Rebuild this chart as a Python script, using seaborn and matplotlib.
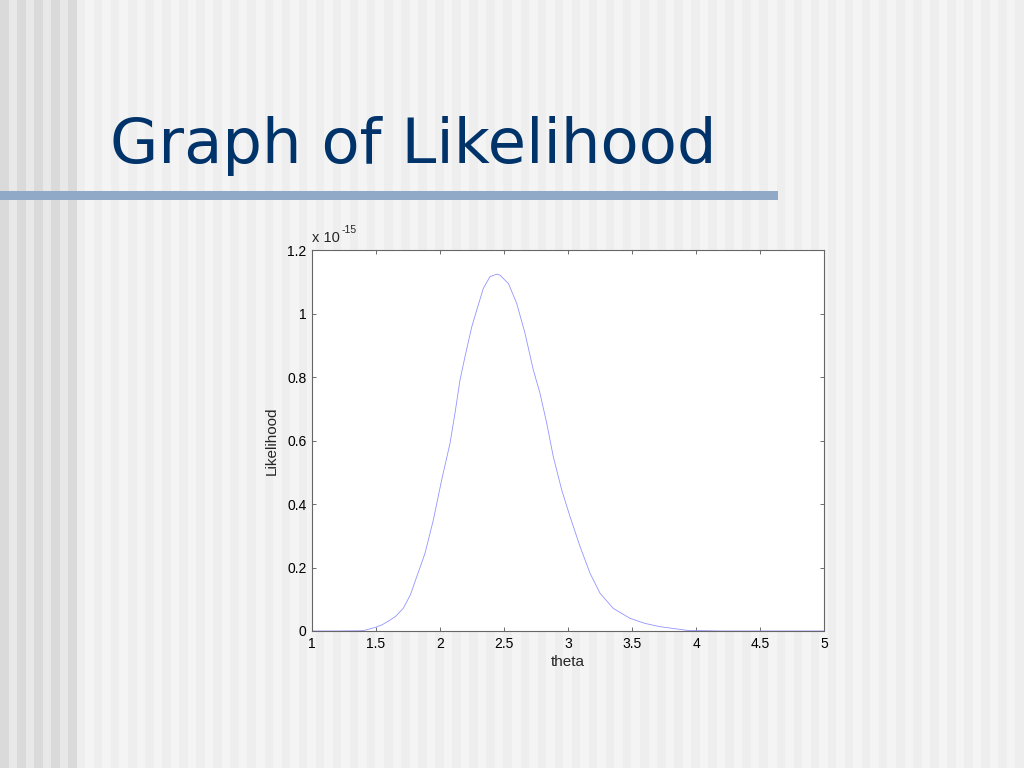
import numpy as np
import matplotlib
matplotlib.use("Agg")
import matplotlib.pyplot as plt
import seaborn as sns
from matplotlib.patches import Rectangle

# curve values (likelihood in units of 1e-15)
theta = [1.0, 1.2, 1.4, 1.5, 1.55, 1.6, 1.65, 1.713, 1.77, 1.818, 1.883, 1.948,
         2.013, 2.078, 2.117, 2.156, 2.195, 2.248, 2.287, 2.338, 2.39, 2.443,
         2.469, 2.52, 2.534, 2.599, 2.664, 2.729, 2.781, 2.834, 2.885, 2.951,
         3.016, 3.094, 3.172, 3.25, 3.354, 3.484, 3.6, 3.72, 3.93, 4.2, 4.5, 5.0]
likelihood = [0.0, 0.0, 0.001, 0.012, 0.02, 0.032, 0.045, 0.0714, 0.115, 0.171,
              0.245, 0.35, 0.476, 0.591, 0.686, 0.79, 0.864, 0.958, 1.011, 1.079,
              1.116, 1.124, 1.121, 1.10, 1.095, 1.032, 0.938, 0.822, 0.749, 0.654,
              0.549, 0.444, 0.36, 0.266, 0.182, 0.119, 0.071, 0.04, 0.024, 0.0135,
              0.002, 0.0, 0.0, 0.0]
xticks = [1, 1.5, 2, 2.5, 3, 3.5, 4, 4.5, 5]
xtick_labels = ["1", "1.5", "2", "2.5", "3", "3.5", "4", "4.5", "5"]
yticks = [0, 0.2, 0.4, 0.6, 0.8, 1.0, 1.2]
ytick_labels = ["0", "0.2", "0.4", "0.6", "0.8", "1", "1.2"]

sns.set_style("ticks")
plt.rcParams['font.family'] = ['Liberation Sans', 'DejaVu Sans']

fig = plt.figure(figsize=(10.24, 7.68), dpi=100)

# slide background: vertical stripes
bg = fig.add_axes([0, 0, 1, 1])
n_str = 120
cols = []
for i in range(n_str):
    if i < 9:
        cols.append(0.858 if i % 2 == 0 else 0.91)
    else:
        cols.append(0.96 if i % 2 == 0 else 0.935)
stripes = np.array(cols)[None, :, None] * np.ones((1, 1, 3))
bg.imshow(stripes, aspect='auto', extent=[0, 1, 0, 1], interpolation='nearest')
bg.set_xlim(0, 1)
bg.set_ylim(0, 1)
bg.axis('off')

fig.text(0.107, 0.788, "Graph of Likelihood", fontsize=45, color='#00336a',
         family=['DejaVu Sans'], va='baseline', ha='left')
fig.patches.append(Rectangle((0, 0.7396), 0.76, 0.0117, transform=fig.transFigure,
                             facecolor='#8fa9c6', edgecolor='none'))

ax = fig.add_axes([0.3047, 0.1784, 0.5, 0.496])
ax.set_facecolor('white')
sns.lineplot(x=theta, y=likelihood, ax=ax, color='#9494ff', linewidth=0.6)

ax.set_xlim(1, 5)
ax.set_ylim(0, 1.2)
ax.set_xticks(xticks)
ax.set_xticklabels(xtick_labels)
ax.set_yticks(yticks)
ax.set_yticklabels(ytick_labels)
ax.tick_params(direction='in', length=3, width=0.6, top=True, right=True,
               labelsize=10, colors='#555555', labelcolor='black', pad=4)
for s in ax.spines.values():
    s.set_visible(True)
    s.set_color('#666666')
    s.set_linewidth(0.8)

ax.set_xlabel("theta", fontsize=11, labelpad=3)
ax.set_ylabel("Likelihood", fontsize=11, labelpad=6)
ax.text(0.0, 1.012, "x 10", transform=ax.transAxes, fontsize=10.5, ha='left', va='bottom')
ax.text(0.057, 1.04, "-15", transform=ax.transAxes, fontsize=7.5, ha='left', va='bottom')

fig.savefig("out.png", dpi=100)
